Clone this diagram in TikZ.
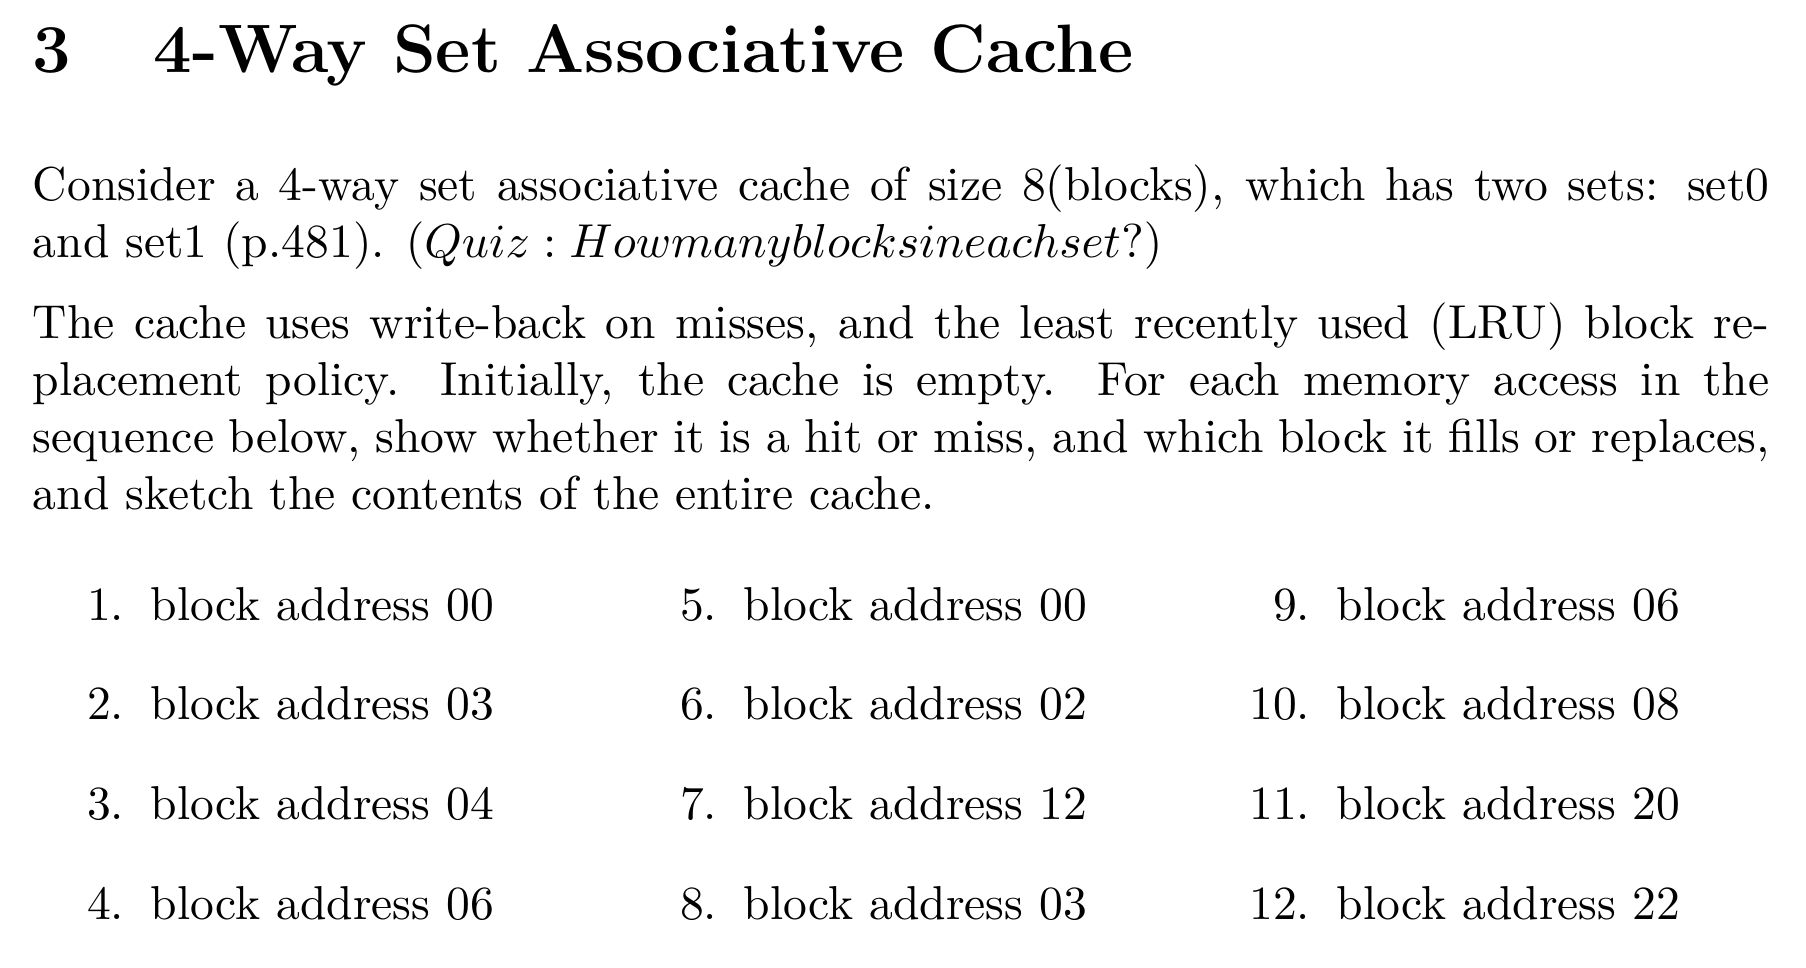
\documentclass[tikz,border=0pt]{standalone}
\usepackage{tikz}
\usetikzlibrary{positioning}
\tikzset{%
	para/.style    = {anchor=base west, inner sep=0pt, text width=365pt, align=justify, font=\normalsize},
	itemno/.style  = {anchor=base east, inner sep=0pt},
	itemtxt/.style = {anchor=base west, inner sep=0pt},
}
\begin{document}
\begin{tikzpicture}[x=0.2102pt,y=-0.2102pt]
	\useasboundingbox (0,0) rectangle (1806,967);
	\node[itemtxt,font=\Large\bfseries] (secno) at (32,72) {3};
	\node[itemtxt,font=\Large\bfseries] (title) at (153,72) {4-Way Set Associative Cache};
	\node[para] (p1) at (32,200) {Consider a 4-way set associative cache of size 8(blocks), which has two sets: set0 and set1 (p.481). $(Quiz: Howmanyblocksineachset?)$};
	\node[para] (p2) at (32,338) {The cache uses write-back on misses, and the least recently used (LRU) block replacement policy. Initially, the cache is empty. For each memory access in the sequence below, show whether it is a hit or miss, and which block it fills or replaces, and sketch the contents of the entire cache.};
	% list of accesses, three columns
	\foreach \n/\addr/\col/\row in {1/00/0/0,2/03/0/1,3/04/0/2,4/06/0/3,
		5/00/1/0,6/02/1/1,7/12/1/2,8/03/1/3,
		9/06/2/0,10/08/2/1,11/20/2/2,12/22/2/3}{
		\node[itemno] (n\n) at ({125+593*\col},{620+99.7*\row}) {\n.};
		\node[itemtxt] (a\n) at ({150+593*\col},{620+99.7*\row}) {block address \addr};
	}
\end{tikzpicture}
\end{document}
